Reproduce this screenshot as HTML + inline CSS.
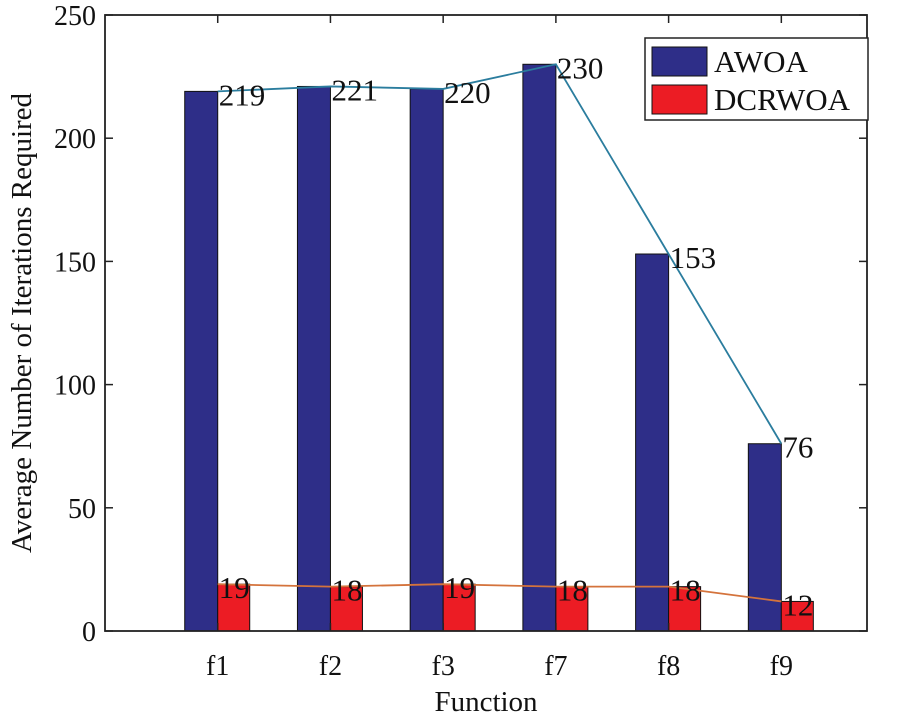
<!DOCTYPE html>
<html><head><meta charset="utf-8"><style>
body{margin:0;background:#fff;}
svg{display:block;font-family:"Liberation Serif",serif;}
</style></head><body>
<svg id="chart" width="900" height="720">
<rect x="0" y="0" width="900" height="720" fill="#fff"/>
<g id="plot"></g>
</svg>
<script>
const categories = ["f1","f2","f3","f7","f8","f9"];
const awoa = [219,221,220,230,153,76];
const dcrwoa = [19,18,19,18,18,12];
const yTicks = [0,50,100,150,200,250];

const L=105,R=867,T=15,B=631;
const xMin=0,xMax=6.76;
const xs=i=>L+(i+1-xMin)/(xMax-xMin)*(R-L);
const ys=v=>B-v/250*(B-T);
const NS="http://www.w3.org/2000/svg";
const g=document.getElementById('plot');
function mk(tag,attrs,parent){const e=document.createElementNS(NS,tag);for(const k in attrs)e.setAttribute(k,attrs[k]);(parent||g).appendChild(e);return e;}
const bw=33;
categories.forEach((c,i)=>{
  const x=xs(i);
  const b1=mk('rect',{x:x-bw,y:ys(awoa[i]),width:bw,height:B-ys(awoa[i]),fill:'#2e2e88',stroke:'#111','stroke-width':1});
  
  
  const b2=mk('rect',{x:x,y:ys(dcrwoa[i]),width:bw-1,height:B-ys(dcrwoa[i]),fill:'#ec1c24',stroke:'#111','stroke-width':1});
  
  
  const t=mk('text',{x:x,y:675,'font-size':28,'text-anchor':'middle',fill:'#111'});
  t.textContent=c;
  
  
  mk('line',{x1:x,x2:x,y1:B,y2:B-8,stroke:'#222','stroke-width':1.5});
  mk('line',{x1:x,x2:x,y1:T,y2:T+8,stroke:'#222','stroke-width':1.5});
});
const lineA=mk('polyline',{points:awoa.map((v,i)=>xs(i)+','+ys(v)).join(' '),fill:'none',stroke:'#2b7d9e','stroke-width':1.8});


const lineD=mk('polyline',{points:dcrwoa.map((v,i)=>xs(i)+','+ys(v)).join(' '),fill:'none',stroke:'#d4733c','stroke-width':1.8});


awoa.forEach((v,i)=>{
  const t=mk('text',{x:xs(i)+1,y:ys(v)+14,'font-size':31,fill:'#111'});
  t.textContent=v;
  
  
});
dcrwoa.forEach((v,i)=>{
  const t=mk('text',{x:xs(i)+1,y:ys(v)+14,'font-size':31,fill:'#111'});
  t.textContent=v;
  
  
});
yTicks.forEach(v=>{
  const y=ys(v);
  mk('line',{x1:L,x2:L+8,y1:y,y2:y,stroke:'#222','stroke-width':1.5});
  mk('line',{x1:R,x2:R-8,y1:y,y2:y,stroke:'#222','stroke-width':1.5});
  const t=mk('text',{x:L-9,y:y+10,'font-size':28,'text-anchor':'end',fill:'#111'});
  t.textContent=v;
  
  
});
const ax=mk('rect',{x:L,y:T,width:R-L,height:B-T,fill:'none',stroke:'#222','stroke-width':1.8});


const xt=mk('text',{x:(L+R)/2,y:711,'font-size':29,'text-anchor':'middle',fill:'#111'});
xt.textContent='Function';


const yt=mk('text',{x:0,y:0,'font-size':29,'text-anchor':'middle',fill:'#111',transform:'translate(31,'+((T+B)/2)+') rotate(-90)'});
yt.textContent='Average Number of Iterations Required';


const lg=mk('g',{});


mk('rect',{x:645,y:38,width:223,height:82,fill:'#fff',stroke:'#222','stroke-width':1.5},lg);
mk('rect',{x:652,y:47,width:55,height:29,fill:'#2e2e88',stroke:'#111'},lg);
mk('rect',{x:652,y:85,width:55,height:29,fill:'#ec1c24',stroke:'#111'},lg);
const l1=mk('text',{x:714,y:72,'font-size':31,fill:'#111'},lg);l1.textContent='AWOA';


const l2=mk('text',{x:714,y:110,'font-size':31,fill:'#111'},lg);l2.textContent='DCRWOA';


</script>
</body></html>
